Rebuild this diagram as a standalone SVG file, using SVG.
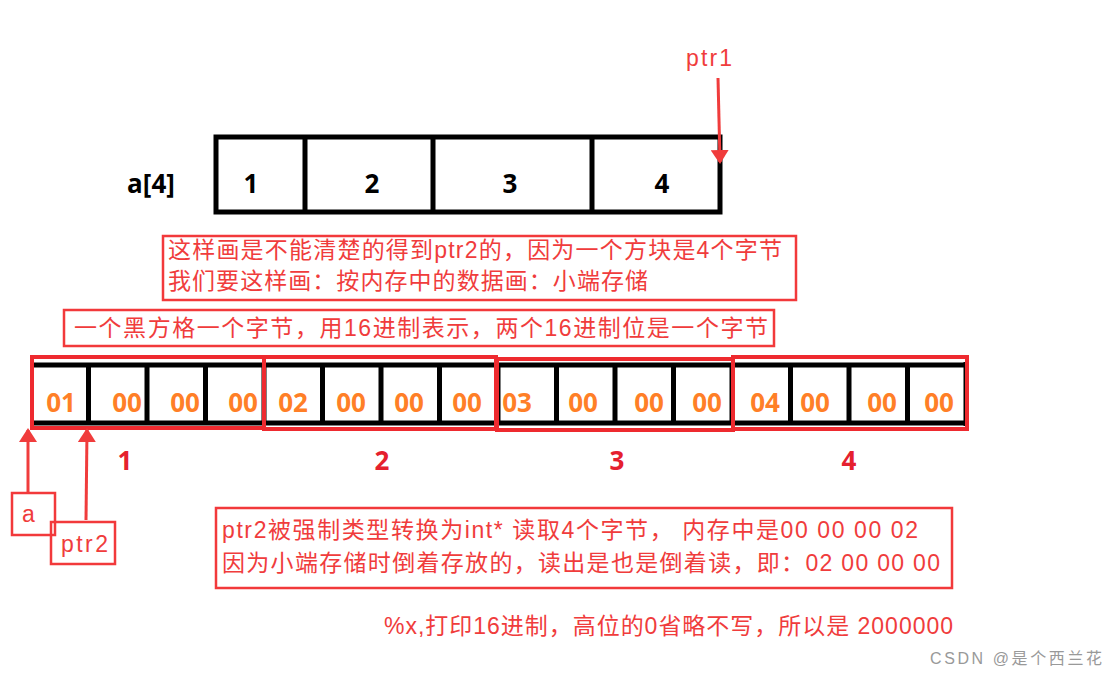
<svg xmlns="http://www.w3.org/2000/svg" width="1117" height="677" viewBox="0 0 1117 677">
<style>
.blk{fill:none;stroke:#000;stroke-width:5}
.rb{fill:none;stroke:#ee2a2f;stroke-width:4}
.tb{fill:none;stroke:#f2393b;stroke-width:2.5}
.t{font-family:"Liberation Sans","Noto Sans CJK SC",sans-serif;fill:#f03c3c;font-size:23px}
.n{font-family:"Open Sans","Liberation Sans",sans-serif;font-weight:bold;font-size:26px;text-anchor:middle}
.o{fill:#ff7f27}
.r{fill:#e5202e}
.ar{stroke:#f03c3c;stroke-width:3;fill:none}
</style>
<defs>
<marker id="ah2" markerWidth="14" markerHeight="18" refX="12" refY="9" orient="auto" markerUnits="userSpaceOnUse" viewBox="0 0 14 18"><path d="M0,0 L14,9 L0,18 z" fill="#f03c3c"/></marker></defs>
<g id="array">
<rect class="blk" x="216" y="137" width="504" height="75"/>
<path class="blk" d="M305,135V214M433,135V214M592,135V214"/>
<text class="n" x="251" y="193">1</text><text class="n" x="372" y="193">2</text><text class="n" x="510" y="193">3</text><text class="n" x="662" y="193">4</text>
<text class="n" x="151" y="193">a[4]</text>
</g>
<g id="ptr1"><text class="t" x="686" y="66" textLength="46">ptr1</text></g>
<g id="note1"><rect class="tb" x="163" y="236" width="633" height="64"/>
<text class="t" x="168" y="258" textLength="614">这样画是不能清楚的得到ptr2的，因为一个方块是4个字节</text>
<text class="t" x="168" y="289" textLength="480">我们要这样画：按内存中的数据画：小端存储</text></g>
<g id="note2"><rect class="tb" x="64" y="310" width="710" height="36"/>
<text class="t" x="74" y="336" textLength="694">一个黑方格一个字节，用16进制表示，两个16进制位是一个字节</text></g>
<g id="bytes">
<path class="blk" d="M30,365H966M30,423H966"/>
<path class="blk" d="M88.5,365V423M147,365V423M205.5,365V423M264,365V423M322.5,365V423M381,365V423M439.5,365V423M498,365V423M556.5,365V423M615,365V423M673.5,365V423M732,365V423M790.5,365V423M849,365V423M907.5,365V423M966,362V426"/>
<rect class="rb" x="32" y="357" width="232" height="71"/>
<rect class="rb" x="264" y="357" width="232" height="72"/>
<rect class="rb" x="497" y="359" width="236" height="71"/>
<rect class="rb" x="733" y="357" width="234" height="72"/>
<g class="n o">
<text x="61" y="412">01</text><text x="127" y="412">00</text><text x="185" y="412">00</text><text x="243" y="412">00</text>
<text x="293" y="412">02</text><text x="351" y="412">00</text><text x="409" y="412">00</text><text x="467" y="412">00</text>
<text x="517" y="412">03</text><text x="583" y="412">00</text><text x="649" y="412">00</text><text x="707" y="412">00</text>
<text x="765" y="412">04</text><text x="815" y="412">00</text><text x="882" y="412">00</text><text x="939" y="412">00</text>
</g>
<g class="n r"><text x="125" y="470">1</text><text x="382" y="470">2</text><text x="617" y="470">3</text><text x="849" y="470">4</text></g>
</g>
<g id="a"><rect class="tb" x="12" y="493" width="43" height="42"/><text class="t" x="22" y="522">a</text></g>
<g id="ptr2"><rect class="tb" x="51" y="522" width="64" height="42"/><text class="t" x="61" y="552" textLength="47">ptr2</text></g>
<g id="note3"><rect class="tb" x="216" y="508" width="736" height="80"/>
<text class="t" x="222" y="538" textLength="696">ptr2被强制类型转换为int*  读取4个字节， 内存中是00 00 00 02</text>
<text class="t" x="222" y="571" textLength="718">因为小端存储时倒着存放的，读出是也是倒着读，即：02 00 00 00</text></g>
<g id="note4"><text class="t" x="384" y="634" textLength="569">%x,打印16进制，高位的0省略不写，所以是 2000000</text></g>
<text x="930" y="664" textLength="172" style="font-family:'Liberation Sans','Noto Sans CJK SC',sans-serif;font-size:16px;fill:#999">CSDN @是个西兰花</text>
<g id="connectors">
<line class="ar" x1="718" y1="78" x2="720" y2="162" marker-end="url(#ah2)"/>
<line class="ar" x1="28" y1="492" x2="28" y2="430" marker-end="url(#ah2)"/>
<line class="ar" x1="86" y1="520" x2="87" y2="430" marker-end="url(#ah2)"/>
</g>
</svg>
